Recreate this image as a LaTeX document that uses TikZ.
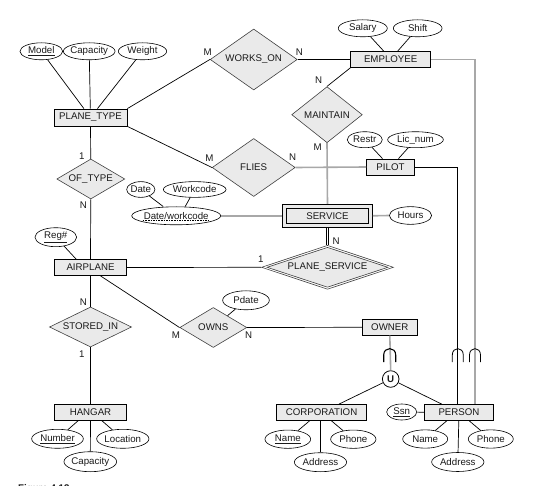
\documentclass[tikz,border=0pt]{standalone}
\usepackage{fontspec}
\setmainfont{Liberation Sans}
\usetikzlibrary{shapes.geometric,calc}
\definecolor{efill}{HTML}{EAEAEA}
\definecolor{gline}{HTML}{A8A8A8}
\definecolor{ink}{HTML}{1A1A1A}
\begin{document}
\begin{tikzpicture}[x=1pt,y=-1pt,
  lbl/.style={font=\fontsize{9.7}{11}\selectfont, text=ink},
  ent/.style={lbl, draw=black, line width=0.8pt, fill=efill, inner sep=0pt, minimum height=16pt},
  rel/.style={lbl, diamond, draw=black!75, line width=0.6pt, fill=efill, inner sep=0pt},
  att/.style={lbl, ellipse, draw=black, line width=0.6pt, fill=white, inner xsep=-1.5pt, inner ysep=0pt, minimum height=17pt},
  card/.style={lbl, inner sep=0pt},
  ln/.style={draw=black, line width=0.7pt},
  gl/.style={draw=gline, line width=1.6pt},
  sub/.style={draw=black, line width=0.8pt},
]
\useasboundingbox (0,0) rectangle (538,486);

% entities
\node[ent, minimum width=73pt, minimum height=17pt] (pt) at (90.5,117.5) {PLANE\_TYPE};
\node[ent, minimum width=80pt] (emp) at (390.7,59.5) {EMPLOYEE};
\node[ent, minimum width=48pt] (pil) at (390.5,167) {PILOT};
\node[ent, minimum width=90pt, minimum height=23pt] (svc) at (327.5,215.8) {};
\node[ent, minimum width=82pt, minimum height=15.6pt] (svci) at (327.5,215.8) {SERVICE};
\node[ent, minimum width=72pt] (ap) at (90.5,267.5) {AIRPLANE};
\node[ent, minimum width=55pt] (own) at (389.8,327.3) {OWNER};
\node[ent, minimum width=72pt] (hg) at (90.5,412) {HANGAR};
\node[ent, minimum width=90pt] (corp) at (321.5,412.5) {CORPORATION};
\node[ent, minimum width=69pt] (per) at (459,412.5) {PERSON};

% relationships
\node[rel, shape aspect=1.43, minimum width=87pt, minimum height=61pt] (wo) at (253.7,59.5) {WORKS\_ON};
\node[rel, shape aspect=1.26, minimum width=70.6pt, minimum height=56pt] (mt) at (327,114.7) {MAINTAIN};
\node[rel, shape aspect=1.43, minimum width=83pt, minimum height=58pt] (fl) at (253.7,167.5) {FLIES};
\node[rel, shape aspect=1.7, minimum width=68pt, minimum height=40pt] (ot) at (90.8,179) {OF\_TYPE};
\node[rel, shape aspect=3, minimum width=132pt, minimum height=44pt, fill=white] (ps) at (327.5,267.3) {};
\node[rel, shape aspect=3, minimum width=121pt, minimum height=40pt] (psi) at (327.5,267.3) {PLANE\_SERVICE};
\node[rel, shape aspect=2.05, minimum width=82pt, minimum height=40pt] (si) at (90.5,327) {STORED\_IN};
\node[rel, shape aspect=1.675, minimum width=67pt, minimum height=40pt] (ow) at (213.3,327.5) {OWNS};

% attributes
\node[att, minimum width=42.7pt] (mod) at (41.3,51.3) {\underline{Model}};
\node[att, minimum width=51.7pt] (cap) at (89.2,51.3) {Capacity};
\node[att, minimum width=48.3pt] (wt) at (142.5,51.3) {Weight};
\node[att, minimum width=49pt] (sal) at (362.8,28.3) {Salary};
\node[att, minimum width=48.7pt] (sh) at (417.7,28.3) {Shift};
\node[att, minimum width=35pt, minimum height=16pt] (rs) at (364.8,139.7) {Restr};
\node[att, minimum width=55.7pt, minimum height=16pt] (lic) at (415.5,139.7) {Lic\_num};
\node[att, minimum width=28.3pt, minimum height=15.7pt] (dt) at (140.8,189.5) {Date};
\node[att, minimum width=62.7pt, minimum height=15.7pt] (wc) at (194.7,189.5) {Workcode};
\node[att, minimum width=89pt, minimum height=18pt] (dw) at (176.2,215.8) {Date/workcode};
\node[att, minimum width=42.3pt, minimum height=17.7pt] (hr) at (410.5,215.5) {Hours};
\node[att, minimum width=41.7pt, minimum height=19pt] (reg) at (55.8,237.2) {\underline{Reg\#}};
\node[att, minimum width=46.7pt, minimum height=19pt] (pd) at (246,300.3) {Pdate};
\node[att, minimum width=51.7pt, minimum height=19pt] (num) at (57.5,438.8) {\underline{Number}};
\node[att, minimum width=52.3pt, minimum height=19pt] (loc) at (122.8,438.8) {Location};
\node[att, minimum width=52.7pt, minimum height=20pt] (hcap) at (90.3,461.7) {Capacity};
\node[att, minimum width=45.7pt, minimum height=18.3pt] (cn) at (287.8,439.2) {\underline{Name}};
\node[att, minimum width=45.3pt, minimum height=18.3pt] (cph) at (353.3,439.2) {Phone};
\node[att, minimum width=52.3pt, minimum height=19pt] (cad) at (320.5,462.2) {Address};
\node[att, minimum width=30pt, minimum height=16pt] (ssn) at (401.7,412) {\underline{Ssn}};
\node[att, minimum width=45pt, minimum height=18.3pt] (pn) at (425.2,439) {Name};
\node[att, minimum width=45pt, minimum height=18.3pt] (pph) at (490.8,439) {Phone};
\node[att, minimum width=52.3pt, minimum height=19pt] (pad) at (457.8,462) {Address};
\draw[line width=0.5pt, dash pattern=on 1.6pt off 1pt] ($(dw.center)+(-33.5,4.6)$) -- ($(dw.center)+(33.5,4.6)$);

% union circle
\node[lbl, circle, draw=black, line width=0.8pt, fill=white, minimum size=16.6pt, inner sep=0pt, font=\fontsize{9.7}{11}\selectfont\bfseries] (u) at (390.7,379) {U};

% connectors
\draw[ln] (mod) -- (pt);
\draw[ln] (cap) -- (pt);
\draw[ln] (wt) -- (pt);
\draw[ln] (pt.north east) -- (wo.west);
\draw[ln] (pt.south east) -- (fl.west);
\draw[ln] (pt) -- (ot);
\draw[ln] (ot) -- (ap);
\draw[ln] (wo.east) -- (emp.west);
\draw[ln] (sal) -- ($(emp.north)+(-7,0)$);
\draw[ln] (sh) -- ($(emp.north)+(7,0)$);
\draw[ln] (emp.south west) -- (mt.north);
\draw[gl] (mt.south) -- (svc.north);
\draw[gl] (fl.east) -- (pil.west);
\draw[ln] (rs) -- ($(pil.north)+(-8,0)$);
\draw[ln] (lic) -- ($(pil.north)+(8,0)$);
\draw[ln] (pil.east) -| ($(per.north)+(-1.7,0)$);
\draw[gl] (emp.east) -| ($(per.north)+(16,0)$);
\draw[ln] (dt) -- ($(dw.north)+(-13,0)$);
\draw[ln] (wc) -- ($(dw.north)+(9,0)$);
\draw[gl] (dw.east) -- (svc.west);
\draw[gl] (svc.east) -- (hr.west);
\draw[line width=0.6pt, double, double distance=1.2pt] (svc.south) -- (ps.north);
\draw[ln] (ap.east) -- (ps.west);
\draw[ln] (reg) -- ($(ap.north west)+(22,0)$);
\draw[ln] (ap) -- (si);
\draw[ln] (si) -- (hg);
\draw[ln] ($(ap.south)+(10,0)$) -- (ow.west);
\draw[ln] (pd) -- (ow);
\draw[ln] (ow.east) -- (own.west);
\draw[gl] (own.south) -- (u.north);
\draw[ln] (u) -- ($(corp.north)+(17.5,0)$);
\draw[ln] (u) -- ($(per.north)+(-17.3,0)$);
\draw[ln] (num) -- ($(hg.south)+(-12,0)$);
\draw[ln] (loc) -- ($(hg.south)+(11,0)$);
\draw[ln] (hg) -- (hcap);
\draw[ln] (cn) -- ($(corp.south)+(-12,0)$);
\draw[ln] (cph) -- ($(corp.south)+(10,0)$);
\draw[ln] (corp.south -| cad.north) -- (cad.north);
\draw[ln] (pn) -- ($(per.south)+(-12.3,0)$);
\draw[ln] (pph) -- ($(per.south)+(10.3,0)$);
\draw[ln] (per) -- (pad);
\draw[ln] (ssn) -- (per);

% subset symbols
\draw[sub, line width=1.1pt] (383.7,362) -- (383.7,355) .. controls (383.7,346.5) and (395.7,346.5) .. (395.7,355) -- (395.7,362);
\draw[sub] (452.3,362) -- (452.3,355) .. controls (452.3,346.5) and (463.3,346.5) .. (463.3,355) -- (463.3,362);
\draw[sub] (469.5,362) -- (469.5,355) .. controls (469.5,346.5) and (480.5,346.5) .. (480.5,355) -- (480.5,362);

% cardinalities
\node[card] (c1) at (207.7,52.3) {M};
\node[card] (c2) at (299.3,52.3) {N};
\node[card] (c3) at (318.7,80) {N};
\node[card] (c4) at (317.7,146.7) {M};
\node[card] (c5) at (209.3,158.3) {M};
\node[card] (c6) at (292.7,156.7) {N};
\node[card] (c7) at (81.7,155.7) {1};
\node[card] (c8) at (83.3,205) {N};
\node[card] (c9) at (260.7,259) {1};
\node[card] (c10) at (336,241) {N};
\node[card] (c11) at (83.3,302.3) {N};
\node[card] (c12) at (81.7,354) {1};
\node[card] (c13) at (176,335) {M};
\node[card] (c14) at (248.7,335) {N};

% caption (cut off at the bottom edge)
\node[lbl, font=\fontsize{9.7}{11}\selectfont\bfseries, anchor=base west, inner sep=0pt] (fig) at (18,491.5) {Figure 4.13};
\end{tikzpicture}
\end{document}
